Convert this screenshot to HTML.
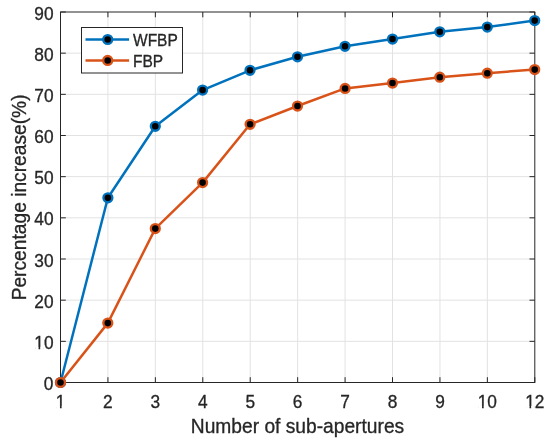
<!DOCTYPE html><html><head><meta charset="utf-8"><style>html,body{margin:0;padding:0;background:#fff;width:550px;height:441px;overflow:hidden}svg{display:block}text{font-family:"Liberation Sans",Arial,Helvetica,sans-serif;fill:#262626;stroke:#262626;stroke-width:0.3px}</style></head><body>
<svg width="550" height="441" viewBox="0 0 550 441">
<rect x="0" y="0" width="550" height="441" fill="#fff"/>
<path d="M107.93 12.0V382.5M155.36 12.0V382.5M202.79 12.0V382.5M250.22 12.0V382.5M297.65 12.0V382.5M345.08 12.0V382.5M392.51 12.0V382.5M439.94 12.0V382.5M487.37 12.0V382.5M60.5 341.33H534.8M60.5 300.17H534.8M60.5 259.00H534.8M60.5 217.83H534.8M60.5 176.67H534.8M60.5 135.50H534.8M60.5 94.33H534.8M60.5 53.17H534.8" stroke="#e2e2e2" stroke-width="1" fill="none"/>
<path d="M60.50 382.5V377.2M60.50 12.0V17.3M107.93 382.5V377.2M107.93 12.0V17.3M155.36 382.5V377.2M155.36 12.0V17.3M202.79 382.5V377.2M202.79 12.0V17.3M250.22 382.5V377.2M250.22 12.0V17.3M297.65 382.5V377.2M297.65 12.0V17.3M345.08 382.5V377.2M345.08 12.0V17.3M392.51 382.5V377.2M392.51 12.0V17.3M439.94 382.5V377.2M439.94 12.0V17.3M487.37 382.5V377.2M487.37 12.0V17.3M534.80 382.5V377.2M534.80 12.0V17.3M60.5 382.50H65.8M534.8 382.50H529.5M60.5 341.33H65.8M534.8 341.33H529.5M60.5 300.17H65.8M534.8 300.17H529.5M60.5 259.00H65.8M534.8 259.00H529.5M60.5 217.83H65.8M534.8 217.83H529.5M60.5 176.67H65.8M534.8 176.67H529.5M60.5 135.50H65.8M534.8 135.50H529.5M60.5 94.33H65.8M534.8 94.33H529.5M60.5 53.17H65.8M534.8 53.17H529.5M60.5 12.00H65.8M534.8 12.00H529.5" stroke="#262626" stroke-width="1" fill="none"/>
<rect x="60.5" y="12.0" width="474.29999999999995" height="370.5" stroke="#262626" stroke-width="1" fill="none"/>
<text transform="translate(60.50 407.9) scale(1 1.035)" font-size="17.3" text-anchor="middle">1</text>
<text transform="translate(107.93 407.9) scale(1 1.035)" font-size="17.3" text-anchor="middle">2</text>
<text transform="translate(155.36 407.9) scale(1 1.035)" font-size="17.3" text-anchor="middle">3</text>
<text transform="translate(202.79 407.9) scale(1 1.035)" font-size="17.3" text-anchor="middle">4</text>
<text transform="translate(250.22 407.9) scale(1 1.035)" font-size="17.3" text-anchor="middle">5</text>
<text transform="translate(297.65 407.9) scale(1 1.035)" font-size="17.3" text-anchor="middle">6</text>
<text transform="translate(345.08 407.9) scale(1 1.035)" font-size="17.3" text-anchor="middle">7</text>
<text transform="translate(392.51 407.9) scale(1 1.035)" font-size="17.3" text-anchor="middle">8</text>
<text transform="translate(439.94 407.9) scale(1 1.035)" font-size="17.3" text-anchor="middle">9</text>
<text transform="translate(487.37 407.9) scale(1 1.035)" font-size="17.3" text-anchor="middle">10</text>
<text transform="translate(534.80 407.9) scale(1 1.035)" font-size="17.3" text-anchor="middle">12</text>
<text transform="translate(53.5 390.10) scale(1 1.035)" font-size="17.3" text-anchor="end">0</text>
<text transform="translate(53.5 348.93) scale(1 1.035)" font-size="17.3" text-anchor="end">10</text>
<text transform="translate(53.5 307.77) scale(1 1.035)" font-size="17.3" text-anchor="end">20</text>
<text transform="translate(53.5 266.60) scale(1 1.035)" font-size="17.3" text-anchor="end">30</text>
<text transform="translate(53.5 225.43) scale(1 1.035)" font-size="17.3" text-anchor="end">40</text>
<text transform="translate(53.5 184.27) scale(1 1.035)" font-size="17.3" text-anchor="end">50</text>
<text transform="translate(53.5 143.10) scale(1 1.035)" font-size="17.3" text-anchor="end">60</text>
<text transform="translate(53.5 101.93) scale(1 1.035)" font-size="17.3" text-anchor="end">70</text>
<text transform="translate(53.5 60.77) scale(1 1.035)" font-size="17.3" text-anchor="end">80</text>
<text transform="translate(53.5 19.60) scale(1 1.035)" font-size="17.3" text-anchor="end">90</text>
<rect x="56.56" y="405.96" width="3.40" height="3.14" fill="#fff"/>
<rect x="61.65" y="405.96" width="3.35" height="3.14" fill="#fff"/>
<rect x="478.62" y="405.96" width="3.40" height="3.14" fill="#fff"/>
<rect x="483.71" y="405.96" width="3.35" height="3.14" fill="#fff"/>
<rect x="526.05" y="405.96" width="3.40" height="3.14" fill="#fff"/>
<rect x="531.14" y="405.96" width="3.35" height="3.14" fill="#fff"/>
<rect x="35.13" y="347.00" width="3.40" height="3.14" fill="#fff"/>
<rect x="40.22" y="347.00" width="3.35" height="3.14" fill="#fff"/>
<text transform="translate(297.5 432.8) scale(1 1.07)" font-size="19.2" text-anchor="middle">Number of sub-apertures</text>
<text transform="translate(25.7 197.4) rotate(-90) scale(1 1.09)" font-size="19.2" text-anchor="middle">Percentage increase(%)</text>
<polyline points="60.50,382.50 107.90,197.75 155.30,126.30 202.60,90.10 250.00,70.30 297.50,56.80 345.00,46.30 392.50,39.10 439.80,31.80 487.30,27.10 534.70,20.60" stroke="#0072bd" stroke-width="2.5" fill="none" stroke-linejoin="round"/>
<circle cx="60.50" cy="382.50" r="4.45" fill="#000" stroke="#0072bd" stroke-width="2.35"/>
<circle cx="107.90" cy="197.75" r="4.45" fill="#000" stroke="#0072bd" stroke-width="2.35"/>
<circle cx="155.30" cy="126.30" r="4.45" fill="#000" stroke="#0072bd" stroke-width="2.35"/>
<circle cx="202.60" cy="90.10" r="4.45" fill="#000" stroke="#0072bd" stroke-width="2.35"/>
<circle cx="250.00" cy="70.30" r="4.45" fill="#000" stroke="#0072bd" stroke-width="2.35"/>
<circle cx="297.50" cy="56.80" r="4.45" fill="#000" stroke="#0072bd" stroke-width="2.35"/>
<circle cx="345.00" cy="46.30" r="4.45" fill="#000" stroke="#0072bd" stroke-width="2.35"/>
<circle cx="392.50" cy="39.10" r="4.45" fill="#000" stroke="#0072bd" stroke-width="2.35"/>
<circle cx="439.80" cy="31.80" r="4.45" fill="#000" stroke="#0072bd" stroke-width="2.35"/>
<circle cx="487.30" cy="27.10" r="4.45" fill="#000" stroke="#0072bd" stroke-width="2.35"/>
<circle cx="534.70" cy="20.60" r="4.45" fill="#000" stroke="#0072bd" stroke-width="2.35"/>
<polyline points="60.50,382.50 107.80,323.10 155.30,228.60 202.60,182.60 250.10,124.30 297.50,106.00 345.10,88.40 392.50,83.00 439.80,77.15 487.30,73.15 534.70,69.60" stroke="#d95319" stroke-width="2.5" fill="none" stroke-linejoin="round"/>
<circle cx="60.50" cy="382.50" r="4.45" fill="#000" stroke="#d95319" stroke-width="2.35"/>
<circle cx="107.80" cy="323.10" r="4.45" fill="#000" stroke="#d95319" stroke-width="2.35"/>
<circle cx="155.30" cy="228.60" r="4.45" fill="#000" stroke="#d95319" stroke-width="2.35"/>
<circle cx="202.60" cy="182.60" r="4.45" fill="#000" stroke="#d95319" stroke-width="2.35"/>
<circle cx="250.10" cy="124.30" r="4.45" fill="#000" stroke="#d95319" stroke-width="2.35"/>
<circle cx="297.50" cy="106.00" r="4.45" fill="#000" stroke="#d95319" stroke-width="2.35"/>
<circle cx="345.10" cy="88.40" r="4.45" fill="#000" stroke="#d95319" stroke-width="2.35"/>
<circle cx="392.50" cy="83.00" r="4.45" fill="#000" stroke="#d95319" stroke-width="2.35"/>
<circle cx="439.80" cy="77.15" r="4.45" fill="#000" stroke="#d95319" stroke-width="2.35"/>
<circle cx="487.30" cy="73.15" r="4.45" fill="#000" stroke="#d95319" stroke-width="2.35"/>
<circle cx="534.70" cy="69.60" r="4.45" fill="#000" stroke="#d95319" stroke-width="2.35"/>
<rect x="81.5" y="27.5" width="101" height="45.5" fill="#fff" stroke="#262626" stroke-width="1"/>
<path d="M85.5 39.5H129.1" stroke="#0072bd" stroke-width="2.5"/>
<circle cx="107.7" cy="39.5" r="4.45" fill="#000" stroke="#0072bd" stroke-width="2.35"/>
<text transform="translate(133 46.30) scale(1 1.07)" font-size="15.5">WFBP</text>
<path d="M85.5 60.4H129.1" stroke="#d95319" stroke-width="2.5"/>
<circle cx="107.7" cy="60.4" r="4.45" fill="#000" stroke="#d95319" stroke-width="2.35"/>
<text transform="translate(133 67.20) scale(1 1.07)" font-size="15.5">FBP</text>
</svg></body></html>
